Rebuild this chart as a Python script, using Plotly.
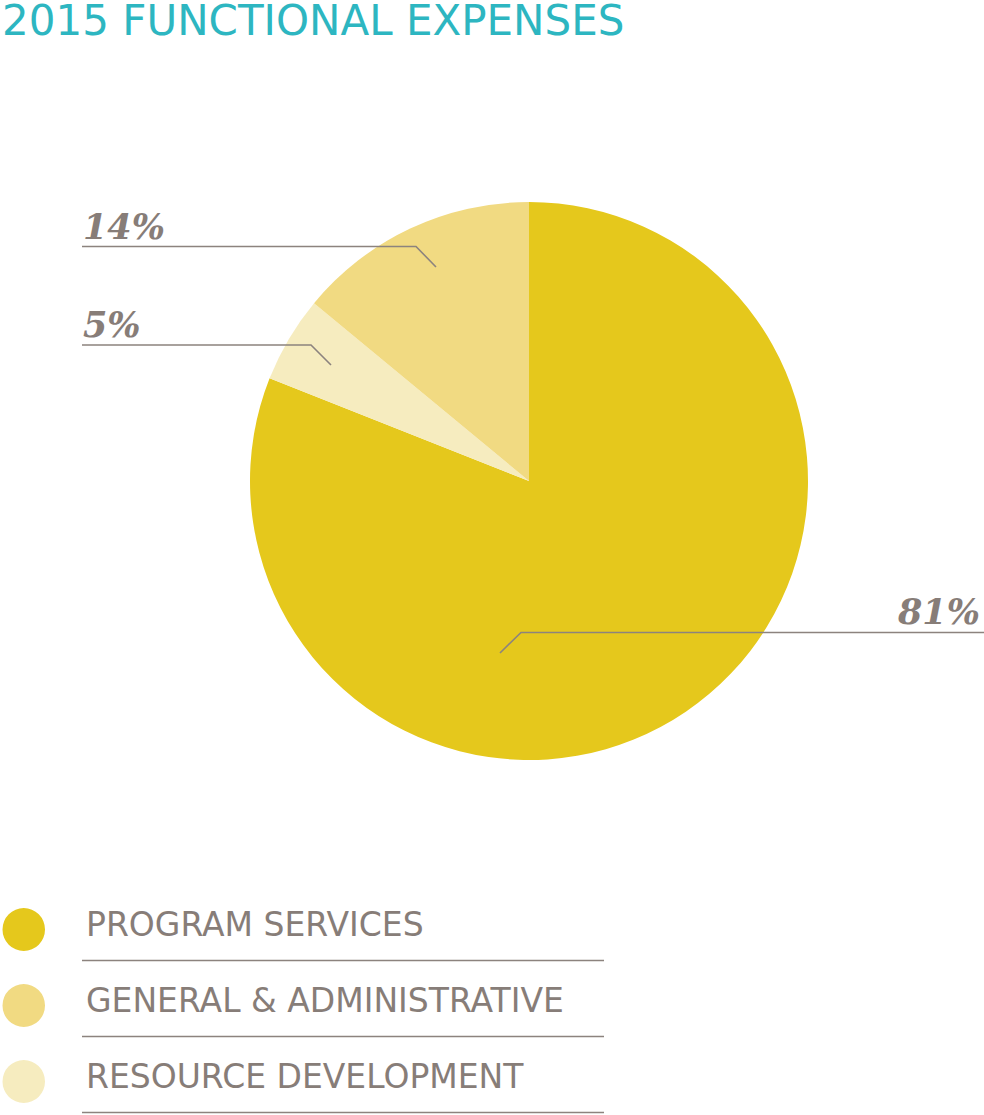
import plotly.graph_objects as go

W, H = 984, 1115

title = "2015 FUNCTIONAL EXPENSES"
categories = ["PROGRAM SERVICES", "RESOURCE DEVELOPMENT", "GENERAL & ADMINISTRATIVE"]
values = [81, 5, 14]
colors = ["#E5C81C", "#F6ECBF", "#F1DA82"]
pct_labels = ["81%", "5%", "14%"]
legend_order = ["PROGRAM SERVICES", "GENERAL & ADMINISTRATIVE", "RESOURCE DEVELOPMENT"]

GREY = "#877D78"
LINE = "#8C837E"


def px(x):
    return x / W


def py(y):
    return 1 - y / H


fig = go.Figure()
fig.add_trace(go.Pie(
    labels=categories,
    values=values,
    marker=dict(colors=colors, line=dict(width=0)),
    sort=False,
    direction="clockwise",
    rotation=0,
    textinfo="none",
    hoverinfo="label+percent",
    showlegend=False,
    domain=dict(x=[px(250), px(808)], y=[py(760), py(202)]),
))

annotations = []
shapes = []

# title
annotations.append(dict(
    x=px(0), y=py(-6), xref="paper", yref="paper", xanchor="left", yanchor="top",
    text=title, showarrow=False,
    font=dict(family="DejaVu Sans", size=42, color="#2DB6C1"),
))

# percentage labels with leader lines
label_specs = {
    "14%": dict(tx=81, ty=226, anchor="left", path=[(82, 246.5), (416, 246.5), (436, 267)]),
    "5%": dict(tx=81, ty=325, anchor="left", path=[(82, 345), (311, 345), (331, 365)]),
    "81%": dict(tx=982, ty=611, anchor="right", path=[(984, 632.5), (521, 632.5), (500, 653)]),
}
for lab in pct_labels:
    s = label_specs[lab]
    annotations.append(dict(
        x=px(s["tx"]), y=py(s["ty"]), xref="paper", yref="paper",
        xanchor=s["anchor"], yanchor="middle", text=f"<b><i>{lab}</i></b>", showarrow=False,
        font=dict(family="DejaVu Serif", size=35, color=GREY),
    ))
    pts = s["path"]
    d = "M " + " L ".join(f"{px(x)},{py(y)}" for x, y in pts)
    shapes.append(dict(type="path", xref="paper", yref="paper", path=d,
                       line=dict(color=LINE, width=1.6)))

# custom legend
color_map = dict(zip(categories, colors))
for i, name in enumerate(legend_order):
    cy = 929.5 + i * 76
    shapes.append(dict(type="circle", xref="paper", yref="paper",
                       x0=px(2.5), x1=px(45), y0=py(cy - 21.5), y1=py(cy + 21.5),
                       fillcolor=color_map[name], line=dict(width=0)))
    annotations.append(dict(
        x=px(84), y=py(cy - 5.5), xref="paper", yref="paper", xanchor="left", yanchor="middle",
        text=name, showarrow=False,
        font=dict(family="DejaVu Sans", size=33, color=GREY),
    ))
    ly = 960.5 + i * 76
    shapes.append(dict(type="line", xref="paper", yref="paper",
                       x0=px(82), x1=px(604), y0=py(ly), y1=py(ly),
                       line=dict(color=LINE, width=1.6)))

fig.update_layout(
    width=W, height=H,
    margin=dict(l=0, r=0, t=0, b=0),
    paper_bgcolor="white", plot_bgcolor="white",
    annotations=annotations, shapes=shapes,
    showlegend=False,
)

fig.write_html(
    "out.html",
    config={"displayModeBar": False},
    post_script="document.body.style.margin='0';document.body.style.overflow='hidden';",
)
